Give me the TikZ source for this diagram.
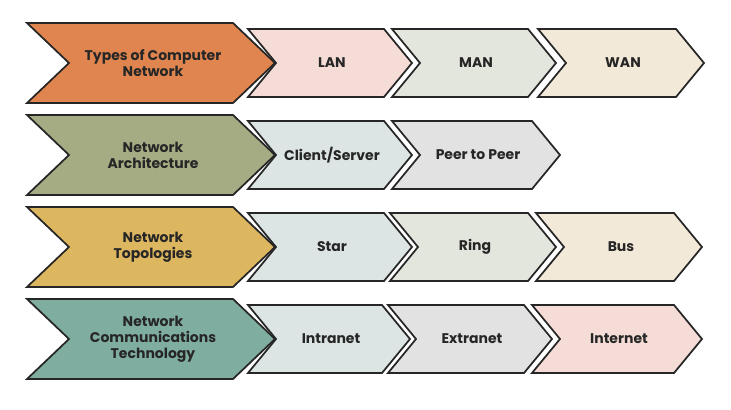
\documentclass[tikz,border=0pt]{standalone}
\usepackage{fontspec}
\setmainfont{Poppins}
\definecolor{cOr}{HTML}{E0854F}\definecolor{cOl}{HTML}{A5AC83}
\definecolor{cGo}{HTML}{DDB660}\definecolor{cTe}{HTML}{7FADA0}
\definecolor{sPk}{HTML}{F5DCD6}\definecolor{sGr}{HTML}{E3E6DC}
\definecolor{sCr}{HTML}{F3E9D8}\definecolor{sBl}{HTML}{DCE5E4}
\definecolor{sGy}{HTML}{E2E2E2}
\tikzset{chev/.style={draw=black!85,line width=1.3pt,line join=miter},
 lab/.style={font=\bfseries\fontsize{10.5}{12}\selectfont,align=center,text=black!85}}
% #1 name, #2 x left, #3 x tip, #4 y center, #5 half height, #6 depth, #7 colour, #8 text
\newcommand\chev[8]{%
 \fill[#7] (#2,#4-#5) -- (#3-#6,#4-#5) -- (#3,#4) -- (#3-#6,#4+#5) -- (#2,#4+#5) -- (#2+#6,#4) -- cycle;
 \draw[chev] (#2,#4-#5) -- (#3-#6,#4-#5) -- (#3,#4) -- (#3-#6,#4+#5) -- (#2,#4+#5) -- (#2+#6,#4) -- cycle;
 \node[lab] (#1) at ({(#2+#3)/2+2},#4) {#8};}
\begin{document}
\begin{tikzpicture}[x=0.75pt,y=-0.75pt]
\useasboundingbox[fill=white] (0,0) rectangle (731,410);
% row 1
\chev{lan}{248}{412}{63}{34}{28}{sPk}{LAN}
\chev{man}{392}{556}{63}{34}{28}{sGr}{MAN}
\chev{wan}{538}{704}{63}{34}{28}{sCr}{WAN}
\chev{r1}{27}{275}{63}{40}{42}{cOr}{Types of Computer\\Network}
% row 2
\chev{cs}{248}{412}{155}{34}{28}{sBl}{Client/Server}
\chev{pp}{392}{560}{155}{34}{28}{sGy}{Peer to Peer}
\chev{r2}{27}{275}{155}{40}{42}{cOl}{Network\\Architecture}
% row 3
\chev{star}{248}{412}{247}{34}{28}{sBl}{Star}
\chev{ring}{390}{556}{247}{34}{28}{sGr}{Ring}
\chev{bus}{536}{702}{247}{34}{28}{sCr}{Bus}
\chev{r3}{27}{275}{247}{40}{42}{cGo}{Network\\Topologies}
% row 4
\chev{intra}{248}{410}{339}{34}{28}{sBl}{Intranet}
\chev{extra}{388}{552}{339}{34}{28}{sGy}{Extranet}
\chev{inter}{532}{702}{339}{34}{28}{sPk}{Internet}
\chev{r4}{27}{275}{339}{40}{42}{cTe}{Network\\Communications\\Technology}
\end{tikzpicture}
\end{document}
